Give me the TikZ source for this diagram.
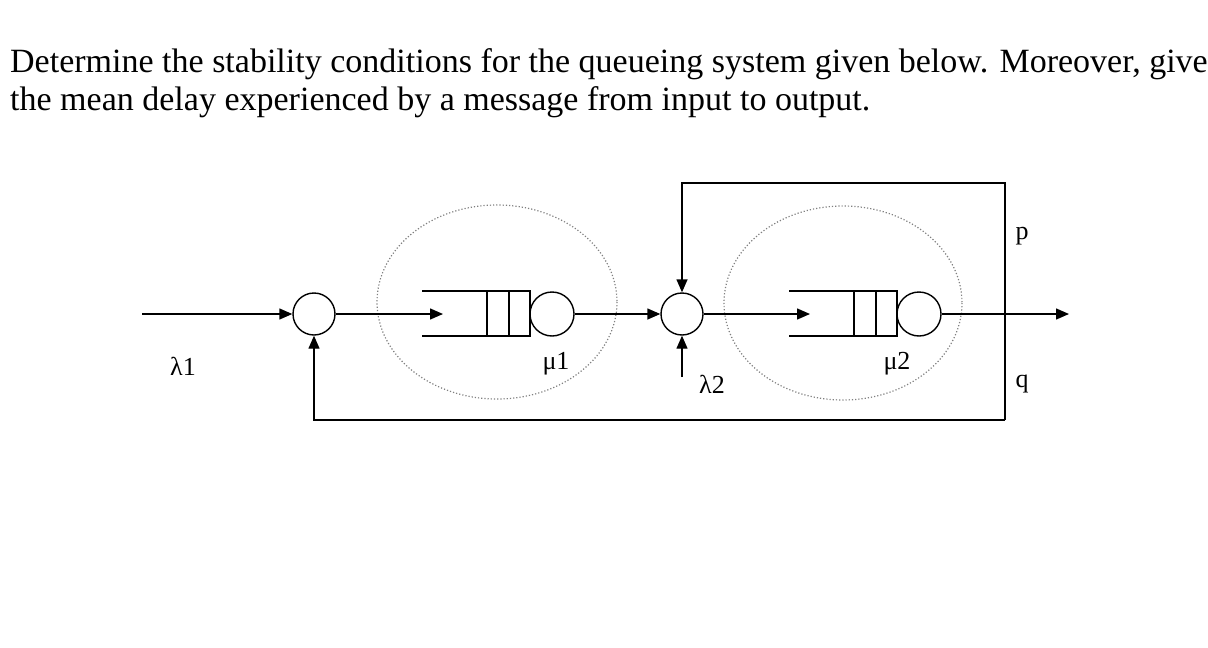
\documentclass[tikz,border=0pt]{standalone}
\usepackage{fontspec}
\setmainfont{Liberation Serif}
\usetikzlibrary{arrows.meta}
\begin{document}
\begin{tikzpicture}[x=1pt,y=-1pt,
  line/.style={line width=1.4pt},
  arr/.style={line, -{Triangle[length=13pt,width=11pt]}},
  junc/.style={circle,draw,line width=1.4pt,minimum size=42pt,inner sep=0pt},
  srv/.style={circle,draw,line width=1.4pt,minimum size=44pt,inner sep=0pt},
  grp/.style={draw=gray,dotted,line width=1.2pt},
  lbl/.style={font=\fontsize{26}{28}\selectfont,inner sep=0pt},
  hdr/.style={font=\fontsize{34}{38}\selectfont,anchor=base west,inner sep=0pt}]
\useasboundingbox (0,0) rectangle (1208,648);
\clip (0,0) rectangle (1208,648);
\node[hdr] (t1) at (10,72) {Determine the stability conditions for the queueing system given below. Moreover, give};
\node[hdr] (t2) at (10,110) {the mean delay experienced by a message from input to output.};
% groups
\draw[grp] (497,302) ellipse [x radius=120, y radius=97];
\draw[grp] (843,303) ellipse [x radius=119, y radius=97];
% junctions
\node[junc] (c1) at (314,314) {};
\node[junc] (c2) at (682,314) {};
% queue 1
\draw[line] (422,291) -- (530,291) -- (530,336) -- (422,336);
\draw[line] (487,291) -- (487,336) (509,291) -- (509,336);
\node[srv] (s1) at (552,314) {};
\coordinate (q1in) at (443,314);
% queue 2
\draw[line] (789,291) -- (897,291) -- (897,336) -- (789,336);
\draw[line] (854,291) -- (854,336) (876,291) -- (876,336);
\node[srv] (s2) at (919,314) {};
\coordinate (q2in) at (810,314);
% connectors
\coordinate (in) at (142,314);
\coordinate (out) at (1069,314);
\coordinate (l2) at (682,377);
\coordinate (tl) at (682,183);
\coordinate (tr) at (1005,183);
\coordinate (br) at (1005,420);
\coordinate (bl) at (314,420);
\draw[arr] (in) -- (c1);
\draw[arr] (c1) -- (q1in);
\draw[arr] (s1) -- (c2);
\draw[arr] (c2) -- (q2in);
\draw[arr] (s2) -- (out);
\draw[arr] (l2) -- (c2);
\draw[arr] (br) -- (tr) -- (tl) -- (c2);
\draw[arr] (br) -- (bl) -- (c1);
% labels
\node[lbl] (la1) at (183,366) {λ1};
\node[lbl] (mu1) at (556,364) {μ1};
\node[lbl] (la2) at (712,384) {λ2};
\node[lbl] (mu2) at (897,364) {μ2};
\node[lbl] (p) at (1022,236) {p};
\node[lbl] (q) at (1022,384) {q};
\end{tikzpicture}
\end{document}
